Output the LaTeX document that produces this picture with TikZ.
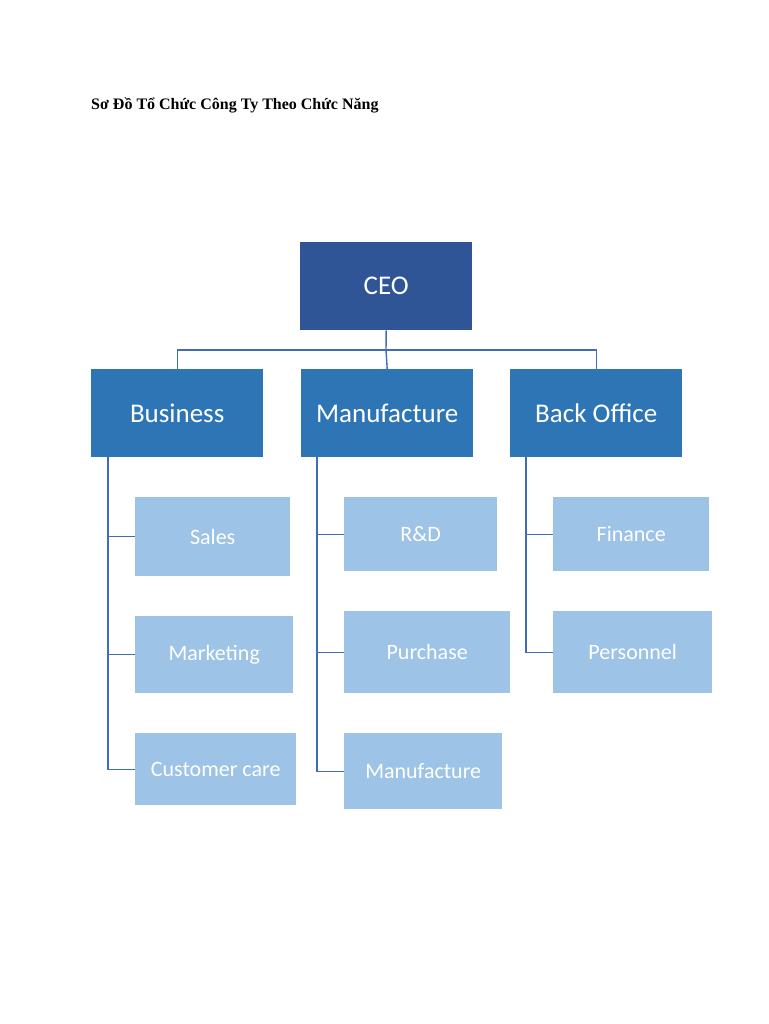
\documentclass[tikz,border=0pt]{standalone}
\usepackage{fontspec}
\setmainfont{Liberation Serif}
\newfontfamily\boxfont{Carlito}
\begin{document}
\begin{tikzpicture}[x=1pt,y=-1pt,
  bx/.style={draw=none,inner sep=0pt,anchor=north west,text=white,font=\boxfont},
  top/.style={bx,fill=ceoc,font=\boxfont\fontsize{27}{30}\selectfont},
  mid/.style={bx,fill=midc,font=\boxfont\fontsize{27}{30}\selectfont},
  sub/.style={bx,fill=subc,font=\boxfont\fontsize{22}{26}\selectfont},
  ln/.style={draw=linec,line width=1.4pt}]
\definecolor{ceoc}{HTML}{2F5597}
\definecolor{midc}{HTML}{2E75B6}
\definecolor{subc}{HTML}{9DC3E6}
\definecolor{linec}{HTML}{3F6CB5}
\useasboundingbox (0,0) rectangle (768,1024);
\node[anchor=base west,inner sep=0pt,font=\bfseries\fontsize{16}{19}\selectfont] (title) at (91,110) {Sơ Đồ Tổ Chức Công Ty Theo Chức Năng};
\node[top,minimum width=172pt,minimum height=88pt] (ceo) at (300,242) {CEO};
\node[mid,minimum width=172pt,minimum height=88pt] (bus) at (91,369) {Business};
\node[mid,minimum width=172pt,minimum height=88pt] (man) at (301,369) {Manufacture};
\node[mid,minimum width=172pt,minimum height=88pt] (bo) at (510,369) {Back Office};
\node[sub,minimum width=155pt,minimum height=79pt] (sales) at (135,497) {Sales};
\node[sub,minimum width=158pt,minimum height=77pt] (mkt) at (135,616) {Marketing};
\node[sub,minimum width=161pt,minimum height=72pt] (cc) at (135,733) {Customer care};
\node[sub,minimum width=153pt,minimum height=74pt] (rd) at (344,497) {R\&D};
\node[sub,minimum width=166pt,minimum height=82pt] (pur) at (344,611) {Purchase};
\node[sub,minimum width=158pt,minimum height=76pt] (man2) at (344,733) {Manufacture};
\node[sub,minimum width=156pt,minimum height=74pt] (fin) at (553,497) {Finance};
\node[sub,minimum width=159pt,minimum height=82pt] (per) at (553,611) {Personnel};
\coordinate (j) at (386,350);
\draw[ln] (ceo.south) -- (j);
\draw[ln] (bus.north) |- (j) -| (bo.north);
\draw[ln] (j) -- (man.north);
\draw[ln] (bus.south west) ++(17,0) |- (sales.west);
\draw[ln] (bus.south west) ++(17,0) |- (mkt.west);
\draw[ln] (bus.south west) ++(17,0) |- (cc.west);
\draw[ln] (man.south west) ++(16,0) |- (rd.west);
\draw[ln] (man.south west) ++(16,0) |- (pur.west);
\draw[ln] (man.south west) ++(16,0) |- (man2.west);
\draw[ln] (bo.south west) ++(16,0) |- (fin.west);
\draw[ln] (bo.south west) ++(16,0) |- (per.west);
\end{tikzpicture}
\end{document}
